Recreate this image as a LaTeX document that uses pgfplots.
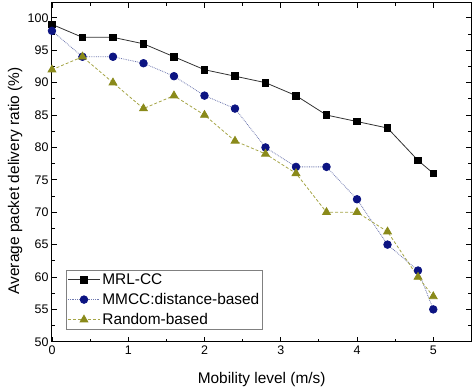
\documentclass[border=0pt]{standalone}
\usepackage{fontspec}
\setmainfont{Liberation Sans}
\usepackage{pgfplots}
\pgfplotsset{compat=1.18}
\definecolor{navyc}{RGB}{12,20,130}
\definecolor{navyl}{RGB}{110,120,175}
\definecolor{olivec}{RGB}{138,138,26}
\definecolor{olivel}{RGB}{165,165,70}
\definecolor{darkl}{RGB}{50,50,50}
\begin{document}
\begin{tikzpicture}
\begin{axis}[
  scale only axis,
  width=419.7bp, height=339bp,
  at={(0,0)}, anchor=south west,
  xmin=0, xmax=5.5, ymin=50, ymax=102.3,
  xtick={0,1,2,3,4,5}, minor xtick={0.5,1.5,2.5,3.5,4.5,5.5},
  ytick={50,55,60,65,70,75,80,85,90,95,100},
  minor ytick={52.5,57.5,62.5,67.5,72.5,77.5,82.5,87.5,92.5,97.5},
  tick align=inside,
  major tick length=5bp, minor tick length=3bp,
  every tick/.style={black, line width=0.9pt},
  axis line style={line width=1pt},
  /pgf/number format/assume math mode=true,
  tick label style={font=\fontsize{12.5}{14}\selectfont},
  xticklabel style={yshift=-1bp},
  label style={font=\fontsize{15.5}{17}\selectfont},
  xlabel={Mobility level (m/s)},
  ylabel={Average packet delivery ratio (\%)},
  xlabel style={at={(axis description cs:0.5,-0.112)}, anchor=center},
  ylabel style={at={(axis description cs:-0.088,0.475)}, anchor=center},
  legend style={at={(axis cs:0.18,51.9)}, anchor=south west, draw=gray, line width=0.8pt,
    font=\fontsize{15.5}{17}\selectfont, row sep=3.5bp, inner sep=1.5bp, inner ysep=1bp, cells={anchor=west}},
  legend cell align=left,
  legend image code/.code={
    \draw[mark repeat=2,mark phase=2] plot coordinates {(0bp,0bp) (16bp,0bp) (32bp,0bp)};
  },
]
\addplot[darkl, line width=0.8pt, mark=square*, mark size=3.3bp, mark options={black, fill=black, solid}]
coordinates {(0,99)(0.4,97)(0.8,97)(1.2,96)(1.6,94)(2.0,92)(2.4,91)(2.8,90)(3.2,88)(3.6,85)(4.0,84)(4.4,83)(4.8,78)(5.0,76)};
\addlegendentry{MRL-CC}
\addplot[navyl, line width=0.8pt, densely dotted, mark=*, mark size=3.8bp, mark options={navyc, fill=navyc, solid}]
coordinates {(0,98)(0.4,94)(0.8,94)(1.2,93)(1.6,91)(2.0,88)(2.4,86)(2.8,80)(3.2,77)(3.6,77)(4.0,72)(4.4,65)(4.8,61)(5.0,55)};
\addlegendentry{MMCC:distance-based}
\addplot[olivel, line width=0.8pt, dash pattern=on 3bp off 2bp, mark=triangle*, mark size=4.5bp, mark options={olivec, fill=olivec, solid}]
coordinates {(0,92)(0.4,94)(0.8,90)(1.2,86)(1.6,88)(2.0,85)(2.4,81)(2.8,79)(3.2,76)(3.6,70)(4.0,70)(4.4,67)(4.8,60)(5.0,57)};
\addlegendentry{Random-based}
\end{axis}
\pgfresetboundingbox
\path[use as bounding box] (-52bp,-48bp) rectangle (422.3bp,342bp);
\end{tikzpicture}
\end{document}
